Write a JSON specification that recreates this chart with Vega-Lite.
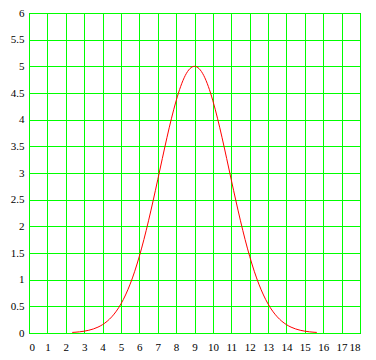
{
  "$schema": "https://vega.github.io/schema/vega-lite/v6.json",
  "autosize": {"type": "none"},
  "padding": {"left": 29, "top": 13, "right": 16, "bottom": 27},
  "width": 331,
  "height": 320,
  "background": "white",
  "config": {
    "view": {"stroke": "black", "strokeWidth": 1},
    "axis": {
      "domain": false,
      "ticks": false,
      "grid": true,
      "gridColor": "#00ff00",
      "gridOpacity": 1,
      "gridWidth": 1,
      "labelFont": "Liberation Serif",
      "labelFontSize": 11,
      "labelColor": "black",
      "title": null
    }
  },
  "data": {
    "values": [
      {"x": 2.35, "y": 0.011},
      {"x": 2.5, "y": 0.014},
      {"x": 2.75, "y": 0.022},
      {"x": 3.0, "y": 0.034},
      {"x": 3.25, "y": 0.051},
      {"x": 3.5, "y": 0.076},
      {"x": 3.75, "y": 0.110},
      {"x": 4.0, "y": 0.157},
      {"x": 4.25, "y": 0.220},
      {"x": 4.5, "y": 0.303},
      {"x": 4.75, "y": 0.410},
      {"x": 5.0, "y": 0.545},
      {"x": 5.25, "y": 0.713},
      {"x": 5.5, "y": 0.916},
      {"x": 5.75, "y": 1.158},
      {"x": 6.0, "y": 1.438},
      {"x": 6.25, "y": 1.754},
      {"x": 6.5, "y": 2.104},
      {"x": 6.75, "y": 2.480},
      {"x": 7.0, "y": 2.873},
      {"x": 7.25, "y": 3.271},
      {"x": 7.5, "y": 3.661},
      {"x": 7.75, "y": 4.027},
      {"x": 8.0, "y": 4.353},
      {"x": 8.25, "y": 4.625},
      {"x": 8.5, "y": 4.830},
      {"x": 8.75, "y": 4.957},
      {"x": 9.0, "y": 5.0},
      {"x": 9.25, "y": 4.957},
      {"x": 9.5, "y": 4.830},
      {"x": 9.75, "y": 4.625},
      {"x": 10.0, "y": 4.353},
      {"x": 10.25, "y": 4.027},
      {"x": 10.5, "y": 3.661},
      {"x": 10.75, "y": 3.271},
      {"x": 11.0, "y": 2.873},
      {"x": 11.25, "y": 2.480},
      {"x": 11.5, "y": 2.104},
      {"x": 11.75, "y": 1.754},
      {"x": 12.0, "y": 1.438},
      {"x": 12.25, "y": 1.158},
      {"x": 12.5, "y": 0.916},
      {"x": 12.75, "y": 0.713},
      {"x": 13.0, "y": 0.545},
      {"x": 13.25, "y": 0.410},
      {"x": 13.5, "y": 0.303},
      {"x": 13.75, "y": 0.220},
      {"x": 14.0, "y": 0.157},
      {"x": 14.25, "y": 0.110},
      {"x": 14.5, "y": 0.076},
      {"x": 14.75, "y": 0.051},
      {"x": 15.0, "y": 0.034},
      {"x": 15.25, "y": 0.022},
      {"x": 15.5, "y": 0.014},
      {"x": 15.65, "y": 0.011}
    ]
  },
  "mark": {"type": "line", "color": "#ff0000", "strokeWidth": 1, "interpolate": "monotone"},
  "encoding": {
    "x": {
      "field": "x",
      "type": "quantitative",
      "scale": {"domain": [0, 18], "nice": false, "zero": false},
      "axis": {
        "values": [0,1,2,3,4,5,6,7,8,9,10,11,12,13,14,15,16,17,18],
        "labelExpr": "datum.value",
        "labelPadding": 8
      }
    },
    "y": {
      "field": "y",
      "type": "quantitative",
      "scale": {"domain": [0, 6], "nice": false},
      "axis": {
        "values": [0,0.5,1,1.5,2,2.5,3,3.5,4,4.5,5,5.5,6],
        "labelExpr": "datum.value",
        "labelPadding": 5
      }
    }
  }
}
